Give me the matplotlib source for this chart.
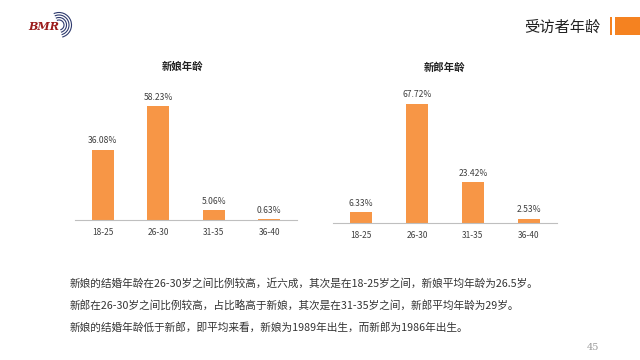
import matplotlib
matplotlib.use("Agg")
import matplotlib.pyplot as plt
from matplotlib.patches import Arc, Rectangle

plt.rcParams['font.family'] = ['Noto Sans CJK SC', 'DejaVu Sans']

# ---- data ----
age_groups = ["18-25", "26-30", "31-35", "36-40"]
bride_pct = [36.08, 58.23, 5.06, 0.63]
groom_pct = [6.33, 67.72, 23.42, 2.53]

page_title = "受访者年龄"
bride_title = "新娘年龄"
groom_title = "新郎年龄"
notes = [
    "新娘的结婚年龄在26-30岁之间比例较高，近六成，其次是在18-25岁之间，新娘平均年龄为26.5岁。",
    "新郎在26-30岁之间比例较高，占比略高于新娘，其次是在31-35岁之间，新郎平均年龄为29岁。",
    "新娘的结婚年龄低于新郎，即平均来看，新娘为1989年出生，而新郎为1986年出生。",
]
page_no = "45"

BAR = "#F79646"
AXIS = "#BFBFBF"
TXT = "#404040"
W, H = 640, 360


def px_axes(fig, x0, x1, y_base, height):
    # axes box given in pixel coords (origin top-left)
    return fig.add_axes([x0 / W, (H - y_base) / H, (x1 - x0) / W, height / H])


def bar_panel(ax, values, ymax):
    x = range(len(values))
    bars = ax.bar(x, values, width=0.4, color=BAR)
    ax.set_xlim(-0.5, len(values) - 0.5)
    ax.set_ylim(0, ymax)
    for b, v in zip(bars, values):
        ax.annotate(f"{v:.2f}%", (b.get_x() + b.get_width() / 2, v),
                    xytext=(0, 3), textcoords="offset points",
                    ha="center", va="bottom", fontsize=6.2, color=TXT)
    ax.set_xticks(list(x))
    ax.set_xticklabels(age_groups, fontsize=6.0, color=TXT)
    ax.tick_params(axis="x", length=0, pad=6)
    ax.set_yticks([])
    for s in ("top", "right", "left"):
        ax.spines[s].set_visible(False)
    ax.spines["bottom"].set_color(AXIS)
    ax.spines["bottom"].set_linewidth(0.8)
    ax.patch.set_alpha(0)


fig = plt.figure(figsize=(6.4, 3.6), dpi=100)

# overlay in pixel coordinates for the slide decorations
deco = fig.add_axes([0, 0, 1, 1])
deco.set_xlim(0, W)
deco.set_ylim(H, 0)
deco.axis("off")

# logo
deco.text(28, 26, "BMR", fontsize=8, fontweight="bold", style="italic",
          family="DejaVu Serif", color="#9B1C1C", va="center", ha="left")
for r in (5, 7.5, 10, 12.5):
    deco.add_patch(Arc((59, 25), 2 * r, 2 * r, theta1=-115, theta2=75,
                       color="#2E3A6E", lw=0.8))

# header title + orange marker
deco.text(600, 27, page_title, fontsize=11, color="#222222", ha="right", va="center")
deco.add_patch(Rectangle((610, 17), 2, 18, color="#F58220", lw=0))
deco.add_patch(Rectangle((615, 17), 25, 18, color="#F58220", lw=0))

# chart titles
deco.text(183, 67, bride_title, fontsize=7.5, fontweight="bold", color="#222222",
          ha="center", va="center")
deco.text(445, 68, groom_title, fontsize=7.5, fontweight="bold", color="#222222",
          ha="center", va="center")

# notes
for i, line in enumerate(notes):
    deco.text(70, 283 + 22 * i, line, fontsize=7.7, color="#333333",
              ha="left", va="center")

deco.text(593, 348, page_no, fontsize=7, color="#999999", family="DejaVu Serif",
          ha="center", va="center")

ax1 = px_axes(fig, 75, 297, 220, 136.5)
bar_panel(ax1, bride_pct, 70)

ax2 = px_axes(fig, 333, 557, 223, 141)
bar_panel(ax2, groom_pct, 80)

fig.savefig("out.png", dpi=100, facecolor="white")
